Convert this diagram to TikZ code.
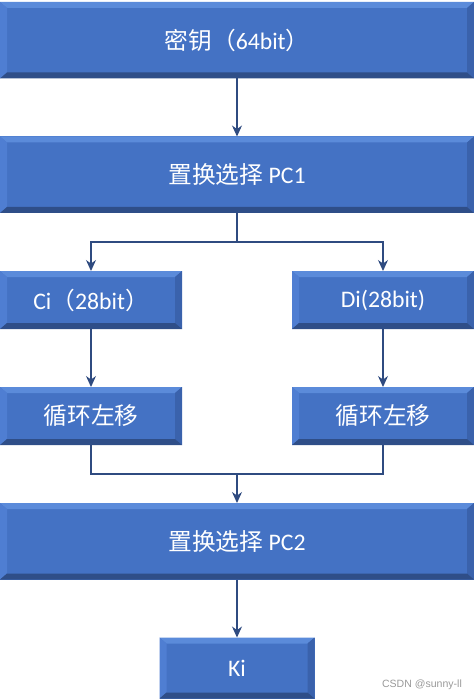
\documentclass[tikz,border=0pt]{standalone}
\usepackage{fontspec}
\setmainfont{Carlito}
\newfontfamily\cjk{Noto Sans CJK SC}
\newfontfamily\wmfont{Liberation Sans}
\usetikzlibrary{positioning,calc,arrows.meta}
\definecolor{boxblue}{HTML}{4472C4}
\definecolor{bevtop}{HTML}{5B8BDA}
\definecolor{bevleft}{HTML}{4F7ED2}
\definecolor{bevright}{HTML}{3A62AC}
\definecolor{bevbottom}{HTML}{2F4E88}
\definecolor{linkblue}{HTML}{2F4B80}

\begin{document}
\begin{tikzpicture}[node distance=1.16cm,outer sep = 0pt,inner sep = 2pt]
        \tikzset{bevel/.style={fill=boxblue,text=white,font=\fontsize{13.5}{16}\selectfont,
            path picture={
                \fill[bevtop] (path picture bounding box.north west) -- (path picture bounding box.north east)
                    -- ([shift={(-0.14,-0.12)}]path picture bounding box.north east) -- ([shift={(0.14,-0.12)}]path picture bounding box.north west) -- cycle;
                \fill[bevleft] (path picture bounding box.north west) -- ([shift={(0.14,-0.12)}]path picture bounding box.north west)
                    -- ([shift={(0.14,0.12)}]path picture bounding box.south west) -- (path picture bounding box.south west) -- cycle;
                \fill[bevright] (path picture bounding box.north east) -- ([shift={(-0.14,-0.12)}]path picture bounding box.north east)
                    -- ([shift={(-0.14,0.12)}]path picture bounding box.south east) -- (path picture bounding box.south east) -- cycle;
                \fill[bevbottom] (path picture bounding box.south west) -- ([shift={(0.14,0.12)}]path picture bounding box.south west)
                    -- ([shift={(-0.14,0.12)}]path picture bounding box.south east) -- (path picture bounding box.south east) -- cycle;
            }}}
        \tikzset{largefield/.style={bevel,shape=rectangle,minimum height=1.53cm,minimum width=9.48cm}}
        \tikzset{field/.style={bevel,shape=rectangle,minimum height=1.16cm,minimum width=3.64cm}}
        \tikzset{link/.style={draw=linkblue,line width=0.6pt}}
        \tikzset{arrow/.style={link,-{Stealth[length=2.2mm,width=2mm]}}}

        \useasboundingbox (0,0) rectangle (9.48,-13.98);

        \node [largefield,anchor=north west] (key) at (0,-0.04) {{\cjk 密钥（}64bit{\cjk ）}};
        \node [largefield,below=of key] (pc1) {{\cjk 置换选择} PC1};

        \node [field,below right=1.16cm and 0cm of pc1.south west] (ci) {Ci{\cjk （}28bit{\cjk ）}};
        \node [field,below left=1.16cm and 0cm of pc1.south east] (di) {Di(28bit)};
        \node [field,below=of ci] (shl) {\cjk 循环左移};
        \node [field,below=of di] (shr) {\cjk 循环左移};

        \node [largefield,below right=1.16cm and 0cm of shl.south west] (pc2) {{\cjk 置换选择} PC2};
        \node [field,below=of pc2,minimum width=3.1cm,minimum height=1.22cm] (ki) {Ki};

        \coordinate (split) at ($(pc1.south)+(0,-0.58)$);
        \coordinate (merge) at ($(pc2.north)+(0,0.58)$);

        \draw [arrow] (key) -- (pc1);
        \draw [link] (pc1.south) -- (split);
        \draw [arrow] (split) -| (ci.north);
        \draw [arrow] (split) -| (di.north);
        \draw [arrow] (ci) -- (shl);
        \draw [arrow] (di) -- (shr);
        \draw [link] (shl.south) |- (merge) -| (shr.south);
        \draw [arrow] (merge) -- (pc2.north);
        \draw [arrow] (pc2) -- (ki);

        \node [text=gray!80,font=\wmfont\fontsize{6}{7}\selectfont] (mark) at (8.44,-13.70) {CSDN @sunny-ll};
\end{tikzpicture}
\end{document}
